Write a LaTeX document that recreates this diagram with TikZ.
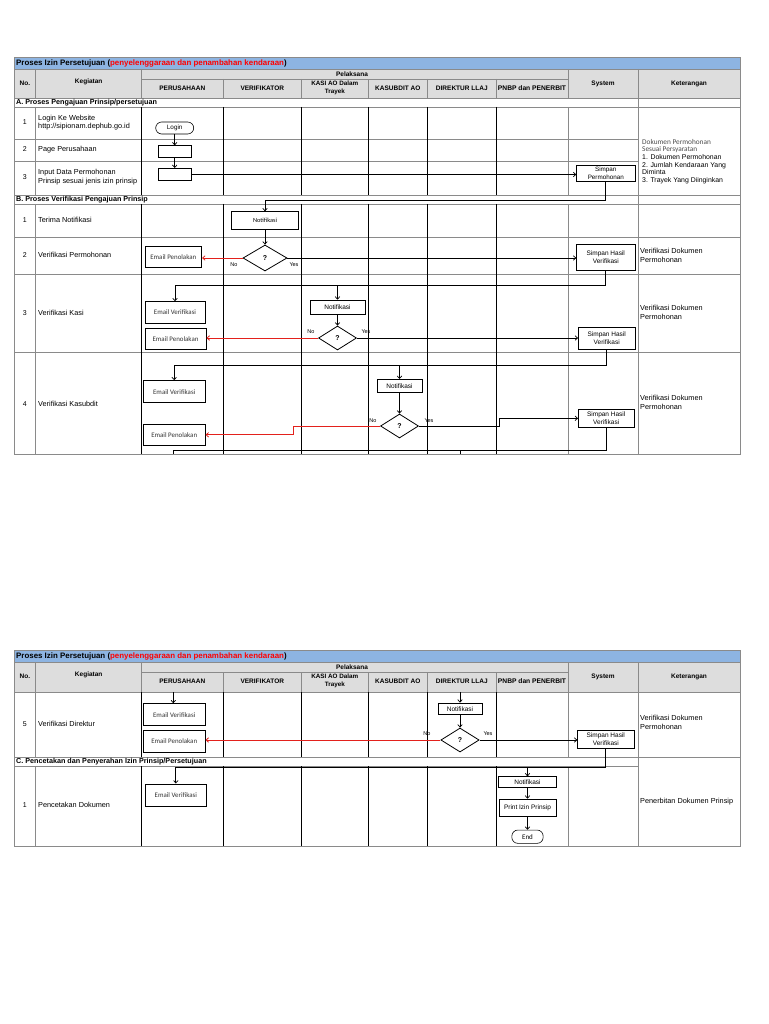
\documentclass[tikz,border=0pt]{standalone}
\usepackage{fontspec}
\setmainfont{Liberation Sans}
\newfontfamily\calib{Carlito}
\usetikzlibrary{shapes.geometric,arrows.meta}
\definecolor{titleblue}{HTML}{8DB4E2}
\definecolor{hdrgray}{HTML}{DDDDDD}
\definecolor{lgray}{HTML}{8A8A8A}
\definecolor{redln}{HTML}{E3211C}
\definecolor{ttlred}{HTML}{FF0000}
\newcommand{\fsz}[2]{\fontsize{#1}{#2}\selectfont}
\begin{document}
\begin{tikzpicture}[x=1pt,y=-1pt,
  glin/.style={draw=lgray,line width=0.8pt},
  ttl/.style={anchor=west,inner sep=0pt,font=\bfseries\fsz{7.9}{9}},
  hd/.style={inner sep=0pt,align=center,font=\bfseries\fsz{6.5}{8}},
  sec/.style={anchor=west,inner sep=0pt,font=\bfseries\fsz{7.2}{8}},
  num/.style={inner sep=0pt,font=\fsz{7}{8}},
  keg/.style={anchor=west,inner sep=0pt,align=left,font=\fsz{7.3}{8.6}},
  ket/.style={anchor=west,inner sep=0pt,align=left,font=\fsz{7.3}{9}},
  pbox/.style={draw=black,line width=0.6pt,fill=white,inner sep=0pt,align=center,font=\fsz{6.5}{8}},
  ebox/.style={draw=black,line width=0.9pt,fill=white,inner sep=0pt,font=\calib\fsz{6.9}{8},text=black!80},
  dec/.style={diamond,draw=black,line width=0.8pt,fill=white,inner sep=0pt,font=\bfseries\fsz{7}{8}},
  term/.style={draw=black,line width=0.6pt,fill=white,rounded corners=6pt,inner sep=0pt,font=\fsz{6.3}{8}},
  yn/.style={inner sep=0pt,font=\fsz{5.5}{6}},
  flow/.style={draw=black,line width=0.7pt,-{Straight Barb[length=2.5pt,width=4.5pt]}},
  rflow/.style={draw=redln,line width=0.8pt,-{Straight Barb[length=2.5pt,width=4.5pt]}},
  conn/.style={draw=black,line width=0.7pt}
]
\useasboundingbox (0,0) rectangle (768,1024);
\fill[white] (0,0) rectangle (768,1024);

%% ================= TOP TABLE =================
\fill[titleblue] (14,57) rectangle (740,69);
\fill[hdrgray] (14,69) rectangle (740,98);
\draw[glin] (14,57) rectangle (740,454);
\draw[glin] (14,69) -- (740,69);
\draw[glin] (141.7,79) -- (568,79);
\draw[glin] (14,98) -- (740,98);
\foreach \x in {35.7,141.7,568,638} \draw[glin] (\x,69) -- (\x,98);
\foreach \x in {223,301.7,368,427.7,496} \draw[glin] (\x,79) -- (\x,98);
\foreach \y in {107,195,204,237,274,352} \draw[glin] (14,\y) -- (740,\y);
\foreach \y in {139,161} \draw[glin] (14,\y) -- (638,\y);
\foreach \x/\c in {35.7/lgray,141.7/black,223/black,301.7/black,368/black,427.7/black,496/black,568/lgray}
  {\draw[line width=0.8pt,draw=\c] (\x,107) -- (\x,195);
   \draw[line width=0.8pt,draw=\c] (\x,204) -- (\x,454);}
\draw[glin] (638,98) -- (638,454);

\node[ttl] (title1) at (16,63) {Proses Izin Persetujuan (\textcolor{ttlred}{penyelenggaraan dan penambahan kendaraan})};
\node[hd] (hno1) at (24.85,83.5) {No.};
\node[hd] (hkeg1) at (88.7,82) {Kegiatan};
\node[hd] (hpel1) at (352,74) {Pelaksana};
\node[hd] (hper1) at (182.3,88.5) {PERUSAHAAN};
\node[hd] (hver1) at (262.3,88.5) {VERIFIKATOR};
\node[hd,font=\bfseries\fsz{6.3}{8}] (hkasi1) at (334.8,88.3) {KASI AO Dalam\\Trayek};
\node[hd] (hksb1) at (397.8,88.5) {KASUBDIT AO};
\node[hd] (hdir1) at (461.8,88.5) {DIREKTUR LLAJ};
\node[hd,font=\bfseries\fsz{6.7}{8}] (hpnbp1) at (532,88.5) {PNBP dan PENERBIT};
\node[hd] (hsys1) at (603,83.5) {System};
\node[hd] (hket1) at (689,83.5) {Keterangan};

\node[sec] (secA) at (16,102.5) {A. Proses Pengajuan Prinsip/persetujuan};
\node[sec] (secB) at (16,199.5) {B. Proses Verifikasi Pengajuan Prinsip};

\node[num] (nA1) at (24.85,122.5) {1};
\node[num] (nA2) at (24.85,149.5) {2};
\node[num] (nA3) at (24.85,177) {3};
\node[num] (nB1) at (24.85,220.5) {1};
\node[num] (nB2) at (24.85,255.5) {2};
\node[num] (nB3) at (24.85,313.3) {3};
\node[num] (nB4) at (24.85,403.7) {4};

\node[keg] (kA1) at (38,122.5) {Login Ke Website\\http://sipionam.dephub.go.id};
\node[keg] (kA2) at (38,149.3) {Page Perusahaan};
\node[keg,font=\fsz{7.3}{9}] (kA3) at (38,177.2) {Input Data Permohonan\\Prinsip sesuai jenis izin prinsip};
\node[keg] (kB1) at (38,220) {Terima Notifikasi};
\node[keg] (kB2) at (38,255) {Verifikasi Permohonan};
\node[keg] (kB3) at (38,313.3) {Verifikasi Kasi};
\node[keg] (kB4) at (38,403.7) {Verifikasi Kasubdit};

\node[ket,font=\fsz{6.9}{7.6}] (ketA) at (642,161.5)
  {{\calib\fsz{7.3}{7.6}\color{black!70}Dokumen Permohonan}\\
   {\calib\fsz{7.3}{7.6}\color{black!70}Sesuai Persyaratan}\\
   1. Dokumen Permohonan\\2. Jumlah Kendaraan Yang\\Diminta\\3. Trayek Yang Diinginkan};
\node[ket] (ketB2) at (640,255) {Verifikasi Dokumen\\Permohonan};
\node[ket] (ketB3) at (640,312.8) {Verifikasi Dokumen\\Permohonan};
\node[ket] (ketB4) at (640,402.8) {Verifikasi Dokumen\\Permohonan};

% section A flow
\node[term,minimum width=38pt,minimum height=12pt] (login) at (174.7,128) {Login};
\node[pbox,minimum width=33.5pt,minimum height=12pt] (pA2) at (174.7,151.7) {};
\node[pbox,minimum width=33.5pt,minimum height=12.4pt] (pA3) at (174.7,174.5) {};
\node[pbox,minimum width=58.3pt,minimum height=16.7pt,font=\fsz{6.3}{7.6}] (SP) at (605.8,173.3) {Simpan\\Permohonan};
\draw[flow] (login.south) -- (login.south |- pA2.north);
\draw[flow] (pA2.south) -- (pA2.south |- pA3.north);
\draw[flow] (pA3.east) -- (pA3.east -| SP.west);

% section B row 1-2
\node[pbox,minimum width=66.6pt,minimum height=17.3pt,font=\calib\fsz{6.3}{8}] (N1) at (265,220.3) {Notifikasi};
\coordinate (c1) at (0,200);
\draw[flow] (SP.south) |- (N1.north |- c1) -- (N1.north);
\node[dec,minimum width=44pt,minimum height=26pt] (D1) at (265,258) {?};
\draw[flow] (N1.south) -- (D1.north);
\node[ebox,minimum width=56.7pt,minimum height=20.6pt] (EP1) at (173.3,257) {Email Penolakan};
\node[pbox,minimum width=58.3pt,minimum height=25.7pt] (SH1) at (605.8,257.2) {Simpan Hasil\\Verifikasi};
\draw[rflow] (D1.west) -- (D1.west -| EP1.east);
\draw[flow] (D1.east) -- (D1.east -| SH1.west);
\node[yn] (no1) at (234,264.5) {No};
\node[yn] (yes1) at (294,264.5) {Yes};

% row 3
\node[ebox,minimum width=60pt,minimum height=21.6pt] (EV3) at (175,312.5) {Email Verifikasi};
\node[ebox,minimum width=61pt,minimum height=21pt] (EP3) at (175.5,338.8) {Email Penolakan};
\node[pbox,minimum width=55pt,minimum height=14pt] (N3) at (337.5,307) {Notifikasi};
\node[dec,minimum width=38pt,minimum height=24pt] (D3) at (337.5,338) {?};
\node[pbox,minimum width=56.7pt,minimum height=21.3pt] (SH3) at (606.7,338.3) {Simpan Hasil\\Verifikasi};
\coordinate (c3) at (0,285);
\draw[flow] (SH1.south) |- (EV3.north |- c3) -- (EV3.north);
\draw[flow] (N3.north |- c3) -- (N3.north);
\draw[flow] (N3.south) -- (D3.north);
\draw[rflow] (D3.west) -- (D3.west -| EP3.east);
\draw[flow] (D3.east) -- (D3.east -| SH3.west);
\node[yn] (no3) at (311,331.7) {No};
\node[yn] (yes3) at (366,331.7) {Yes};

% row 4
\node[ebox,minimum width=61.7pt,minimum height=22pt] (EV4) at (174.2,391.7) {Email Verifikasi};
\node[ebox,minimum width=61.7pt,minimum height=21.7pt] (EP4) at (174.2,434.8) {Email Penolakan};
\node[pbox,minimum width=45pt,minimum height=13.4pt] (N4) at (399.5,386) {Notifikasi};
\node[dec,minimum width=38pt,minimum height=24pt] (D4) at (399.5,426) {?};
\node[pbox,minimum width=55.7pt,minimum height=18pt] (SH4) at (606.2,418.3) {Simpan Hasil\\Verifikasi};
\coordinate (c4) at (0,365);
\draw[flow] (SH3.south) |- (EV4.north |- c4) -- (EV4.north);
\draw[flow] (N4.north |- c4) -- (N4.north);
\draw[flow] (N4.south) -- (D4.north);
\draw[rflow] (D4.west) -- ++(-87,0) |- (EP4.east);
\draw[flow] (D4.east) -- ++(80,0) |- (SH4.west);
\node[yn] (no4) at (373,421) {No};
\node[yn] (yes4) at (429,421) {Yes};
\coordinate (c5) at (0,450);
\coordinate (s4a) at (173.3,454);
\coordinate (s4b) at (460,454);
\draw[conn] (SH4.south) |- (s4a |- c5) -- (s4a);
\draw[conn] (s4b |- c5) -- (s4b);

%% ================= BOTTOM TABLE =================
\fill[titleblue] (14,650) rectangle (740,662);
\fill[hdrgray] (14,662) rectangle (740,692);
\draw[glin] (14,650) rectangle (740,846);
\draw[glin] (14,662) -- (740,662);
\draw[glin] (141.7,672) -- (568,672);
\draw[glin] (14,692) -- (740,692);
\foreach \x in {35.7,141.7,568,638} \draw[glin] (\x,662) -- (\x,692);
\foreach \x in {223,301.7,368,427.7,496} \draw[glin] (\x,672) -- (\x,692);
\foreach \y in {757,846} \draw[glin] (14,\y) -- (740,\y);
\draw[glin] (14,766) -- (638,766);
\foreach \x/\c in {35.7/lgray,141.7/black,223/black,301.7/black,368/black,427.7/black,496/black,568/lgray}
  {\draw[line width=0.8pt,draw=\c] (\x,692) -- (\x,757);
   \draw[line width=0.8pt,draw=\c] (\x,766) -- (\x,846);}
\draw[glin] (638,692) -- (638,846);

\node[ttl] (title2) at (16,656) {Proses Izin Persetujuan (\textcolor{ttlred}{penyelenggaraan dan penambahan kendaraan})};
\node[hd] (hno2) at (24.85,676.5) {No.};
\node[hd] (hkeg2) at (88.7,675) {Kegiatan};
\node[hd] (hpel2) at (352,667) {Pelaksana};
\node[hd] (hper2) at (182.3,681.5) {PERUSAHAAN};
\node[hd] (hver2) at (262.3,681.5) {VERIFIKATOR};
\node[hd,font=\bfseries\fsz{6.3}{8}] (hkasi2) at (334.8,681.3) {KASI AO Dalam\\Trayek};
\node[hd] (hksb2) at (397.8,681.5) {KASUBDIT AO};
\node[hd] (hdir2) at (461.8,681.5) {DIREKTUR LLAJ};
\node[hd,font=\bfseries\fsz{6.7}{8}] (hpnbp2) at (532,681.5) {PNBP dan PENERBIT};
\node[hd] (hsys2) at (603,676.5) {System};
\node[hd] (hket2) at (689,676.5) {Keterangan};

\node[num] (n5) at (24.85,724.5) {5};
\node[keg] (k5) at (38,724.2) {Verifikasi Direktur};
\node[sec] (secC) at (16,761.5) {C. Pencetakan dan Penyerahan Izin Prinsip/Persetujuan};
\node[num] (nC1) at (24.85,805) {1};
\node[keg] (kC1) at (38,805) {Pencetakan Dokumen};
\node[ket] (ket5) at (640,722.5) {Verifikasi Dokumen\\Permohonan};
\node[ket] (ketC) at (640,801.7) {Penerbitan Dokumen Prinsip};

% row 5
\node[ebox,minimum width=61.7pt,minimum height=22pt] (EV5) at (174.2,714.7) {Email Verifikasi};
\node[ebox,minimum width=61.7pt,minimum height=21.3pt] (EP5) at (174.2,741.3) {Email Penolakan};
\node[pbox,minimum width=44.4pt,minimum height=11.7pt] (N5) at (460,708.8) {Notifikasi};
\node[dec,minimum width=38.3pt,minimum height=24pt] (D5) at (460,740) {?};
\node[pbox,minimum width=56.3pt,minimum height=17.3pt] (SH5) at (605.8,739.3) {Simpan Hasil\\Verifikasi};
\coordinate (in5a) at (173.3,692);
\coordinate (in5b) at (460,692);
\draw[flow] (in5a) -- (in5a |- EV5.north);
\draw[flow] (in5b) -- (N5.north);
\draw[flow] (N5.south) -- (D5.north);
\draw[rflow] (D5.west) -- (D5.west -| EP5.east);
\draw[flow] (D5.east) -- (D5.east -| SH5.west);
\node[yn] (no5) at (427,734) {No};
\node[yn] (yes5) at (488,734) {Yes};

% row C1
\node[ebox,minimum width=61.7pt,minimum height=22.7pt] (EVC) at (175.8,795.3) {Email Verifikasi};
\node[pbox,minimum width=58.4pt,minimum height=11pt] (NC) at (527.5,782.2) {Notifikasi};
\node[pbox,minimum width=57.4pt,minimum height=17pt] (PC) at (527.5,807.5) {Print Izin Prinsip};
\node[term,minimum width=31.3pt,minimum height=13.3pt,font=\calib\fsz{7}{8}] (endC) at (527.5,836.7) {End};
\coordinate (c6) at (0,767);
\draw[flow] (SH5.south) |- (EVC.north |- c6) -- (EVC.north);
\draw[flow] (NC.north |- c6) -- (NC.north);
\draw[flow] (NC.south) -- (PC.north);
\draw[flow] (PC.south) -- (endC.north);
\end{tikzpicture}
\end{document}
